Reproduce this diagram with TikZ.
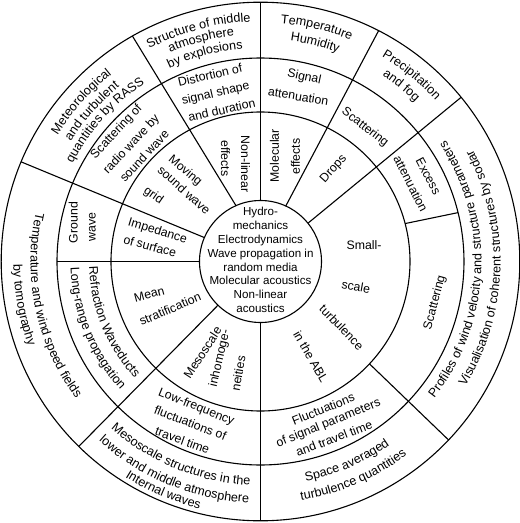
\documentclass[tikz,border=0pt]{standalone}
\usepackage{fontspec}
\setmainfont{Liberation Sans}
\usetikzlibrary{decorations.text}
\newcommand\centerfont{\fontsize{11.6}{13.8}\selectfont}
\newcommand\ringfont{\fontsize{12.3}{14}\selectfont}
\newcommand\arcfont{\fontsize{12.6}{14}\selectfont}
% text along an arc, reading clockwise (letters face outward)
\newcommand\cwtext[3]{%
  \path[decorate,decoration={text along path,text align=center,text={|\arcfont|#3}}]
    ({#2+60}:#1) arc[start angle={#2+60},end angle={#2-60},radius=#1];}
% text along an arc, reading counterclockwise (letters face the centre)
\newcommand\ccwtext[3]{%
  \path[decorate,decoration={text along path,text align=center,text={|\arcfont|#3}}]
    ({#2-60}:#1) arc[start angle={#2-60},end angle={#2+60},radius=#1];}
\begin{document}
\begin{tikzpicture}[x=1pt,y=1pt]
\tikzset{
  rt/.style={font=\ringfont,inner sep=0pt},
  ln/.style={line width=1.1pt,black}
}
\fill[white] (-260.5,-261.5) rectangle (259.5,261.5);
\useasboundingbox (-260.5,-261.5) rectangle (259.5,261.5);

% rings
\draw[ln] (0,0) circle[radius=259.3];
\draw[ln] (0,0) circle[radius=203.5];
\draw[ln] (0,0) circle[radius=149.5];
\draw[ln] (0,0) circle[radius=61];

% spokes
\draw[ln] (90:61) -- (90:259.3);
\draw[ln] (113.7:61) -- (119.6:259.3);
\draw[ln] (65.5:61) -- (62.9:259.3);
\draw[ln] (38.9:61) -- (39.3:259.3);
\draw[ln] (156.9:61) -- (157.4:259.3);
\draw[ln] (180:61) -- (180:203.5);
\draw[ln] (225.8:61) -- (225.5:259.3);
\draw[ln] (270:61) -- (270:259.3);
\draw[ln] (316.8:149.5) -- (316.5:259.3);
\draw[ln] (14.7:149.5) -- (13.9:203.5);

% centre
\node[align=center,font=\centerfont,inner sep=0pt] (core) at (0,1.5)
  {Hydro-\\mechanics\\Electrodynamics\\Wave propagation in\\random media\\Molecular acoustics\\Non-linear\\acoustics};

% inner ring
\node[rt,rotate=-90] (nl1) at (-15,97.5) {Non-linear};
\node[rt,rotate=-90] (nl2) at (-35,103) {effects};
\node[rt,rotate=90] (mo1) at (14,105.7) {Molecular};
\node[rt,rotate=90] (mo2) at (35,104.8) {effects};
\node[rt,rotate=48] (dr) at (73.2,92.2) {Drops};
\node[rt] (ss1) at (103.5,16.8) {Small-};
\node[rt,rotate=-10] (ss2) at (95.5,-25.2) {scale};
\node[rt,rotate=-46] (ss3) at (81.2,-65.8) {turbulence};
\node[rt,rotate=-60] (ss4) at (50.3,-95.2) {in the ABL};
\node[rt,rotate=57] (mi1) at (-58,-91) {Mesoscale};
\node[rt,rotate=77] (mi2) at (-40.5,-96.8) {inhomoge-};
\node[rt,rotate=80] (mi3) at (-22.2,-111.8) {neities};
\node[rt,rotate=15] (ms1) at (-111.3,-32.7) {Mean};
\node[rt,rotate=23] (ms2) at (-90.5,-47.5) {stratification};
\node[rt,rotate=-17] (is1) at (-103,30) {Impedance};
\node[rt,rotate=-15] (is2) at (-110.5,15.5) {of surface};
\node[rt,rotate=-40] (mv1) at (-75.5,90.7) {Moving};
\node[rt,rotate=-42] (mv2) at (-76.3,71.5) {sound wave};
\node[rt,rotate=-35] (mv3) at (-107.2,65.7) {grid};

% middle ring
\node[rt,rotate=13] (ds1) at (-50.5,186.5) {Distortion of};
\node[rt,rotate=13] (ds2) at (-44.8,167.5) {signal shape};
\node[rt,rotate=13] (ds3) at (-38.8,151.5) {and duration};
\node[rt,rotate=-12] (sa1) at (43.7,184.3) {Signal};
\node[rt,rotate=-9] (sa2) at (37.8,165.3) {attenuation};
\node[rt,rotate=-38] (sc1) at (104.5,134) {Scattering};
\node[rt,rotate=-62] (ea1) at (167.8,85.2) {Excess};
\node[rt,rotate=-63] (ea2) at (150.3,77.8) {attenuation};
\node[rt,rotate=75] (sc2) at (174.5,-41) {Scattering};
\node[rt,rotate=22] (fs1) at (62.8,-147.5) {Fluctuations};
\node[rt,rotate=22] (fs2) at (68,-162) {of signal parameters};
\node[rt,rotate=21] (fs3) at (73.5,-176.8) {and travel time};
\node[rt,rotate=-22] (lf1) at (-64.3,-145.7) {Low-frequency};
\node[rt,rotate=-21] (lf2) at (-70.1,-161.4) {fluctuations of};
\node[rt,rotate=-20] (lf3) at (-78,-178.8) {travel time};
\node[rt,rotate=47] (sr1) at (-143.8,129.8) {Scattering of};
\node[rt,rotate=47] (sr2) at (-128.8,116.5) {radio wave by};
\node[rt,rotate=47] (sr3) at (-116.3,105.7) {sound wave};
\node[rt,rotate=90] (gw1) at (-187.2,39) {Ground};
\node[rt,rotate=90] (gw2) at (-168,34.8) {wave};
\ccwtext{171.5}{202.3}{Refraction Waveducts}
\ccwtext{190}{202.2}{Long-range propagation}

% outer ring
\cwtext{240}{105}{Structure of middle}
\cwtext{227.5}{105}{atmosphere}
\cwtext{213.5}{105}{by explosions}
\cwtext{239}{76.5}{Temperature}
\cwtext{222.5}{76}{Humidity}
\cwtext{238}{51}{Precipitation}
\cwtext{222}{51.3}{and fog}
\ccwtext{221}{-2.5}{Profiles of wind velocity and structure parameters}
\ccwtext{240}{-1.8}{Visualisation of coherent structures by sodar}
\ccwtext{224.5}{293.4}{Space averaged}
\ccwtext{242.5}{293.4}{turbulence quantities}
\ccwtext{224}{247.7}{Mesoscale structures in the}
\ccwtext{241.5}{247.6}{lower and middle atmosphere}
\ccwtext{254.5}{247}{Internal waves}
\ccwtext{230}{192.1}{Temperature and wind speed fields}
\ccwtext{247}{190.4}{by tomography}
\cwtext{239}{138.3}{Meteorological}
\cwtext{224.5}{138.25}{and turbulent}
\cwtext{212}{137.75}{quantities by RASS}
\end{tikzpicture}
\end{document}
